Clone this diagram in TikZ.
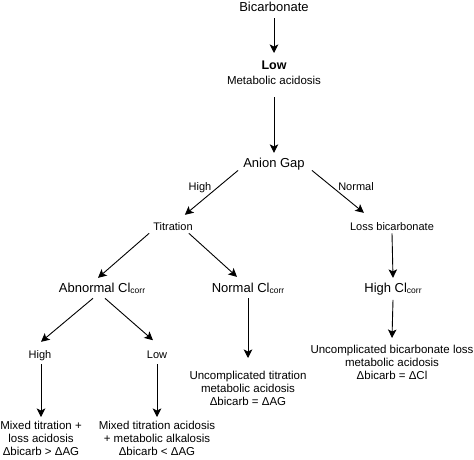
\documentclass[tikz,border=0pt]{standalone}
\usepackage{fontspec}
\setmainfont{Liberation Sans}
\usetikzlibrary{arrows.meta}
\newcommand{\corrsub}{\raisebox{-1pt}{\fontsize{8.5}{8.5}\selectfont corr}}
\tikzset{
  big/.style={inner sep=0pt, font=\fontsize{13}{15}\selectfont},
  small/.style={inner sep=0pt, font=\fontsize{11}{13}\selectfont},
  multi/.style={inner sep=0pt, align=center, anchor=north, font=\fontsize{11.5}{13}\selectfont},
  arr/.style={line width=0.9pt, -{Stealth[length=8.5pt,width=8.5pt,inset=2pt]}}
}
\begin{document}
\begin{tikzpicture}[x=1pt,y=-1pt]
\path[use as bounding box, fill=white] (0,0) rectangle (474,460);

\node[big, anchor=base] (bic) at (274,12) {Bicarbonate};
\node[inner sep=0pt, align=center, anchor=north, font=\fontsize{11.5}{15}\selectfont] (low) at (274,61) {{\fontsize{12.5}{15}\selectfont\bfseries Low}\\Metabolic acidosis};
\node[big, anchor=base] (ag) at (274,167.5) {Anion Gap};
\node[small, anchor=base] (lhigh) at (200,190) {High};
\node[small, anchor=base] (lnormal) at (356,190) {Normal};
\node[small, anchor=base] (tit) at (173,230) {Titration};
\node[small, anchor=base] (lossb) at (392,230) {Loss bicarbonate};
\node[big, anchor=base] (abn) at (102,292) {Abnormal Cl\corrsub};
\node[big, anchor=base] (ncl) at (248,292) {Normal Cl\corrsub};
\node[big, anchor=base] (hcl) at (393,292) {High Cl\corrsub};
\node[small, anchor=base] (hi2) at (40,358) {High};
\node[small, anchor=base] (low2) at (157,358) {Low};
\node[multi] (mix1) at (41,420.5) {Mixed titration +\\loss acidosis\\Δbicarb > ΔAG};
\node[multi] (mix2) at (157,420.5) {Mixed titration acidosis\\+ metabolic alkalosis\\Δbicarb < ΔAG};
\node[multi] (unt) at (248,370.5) {Uncomplicated titration\\metabolic acidosis\\Δbicarb = ΔAG};
\node[multi] (unb) at (392,344.5) {Uncomplicated bicarbonate loss\\metabolic acidosis\\Δbicarb = ΔCl};

\draw[arr] ([yshift=-6pt]bic.south) -- ([yshift=8pt]low.north);
\draw[arr] ([yshift=-12pt]low.south) -- ([yshift=5pt]ag.north);
\draw[arr] ([xshift=-5pt]ag.south west) -- ([xshift=-8pt,yshift=7pt]tit.north east);
\draw[arr] ([xshift=7pt]ag.south east) -- ([xshift=14pt,yshift=9pt]lossb.north west);
\draw[arr] ([xshift=-4pt,yshift=-3pt]tit.south west) -- ([xshift=-4pt,yshift=4.5pt]abn.north);
\draw[arr] ([xshift=-4pt,yshift=-3pt]tit.south east) -- ([xshift=-11pt,yshift=5.5pt]ncl.north);
\draw[arr] ([yshift=-3pt]lossb.south) -- ([yshift=4.5pt]hcl.north);
\draw[arr] ([xshift=-9pt,yshift=-5pt]abn.south) -- ([xshift=1pt,yshift=8pt]hi2.north);
\draw[arr] ([xshift=3pt,yshift=-5pt]abn.south) -- ([xshift=-4pt,yshift=10pt]low2.north);
\draw[arr] ([xshift=1pt,yshift=-4pt]hi2.south) -- ([yshift=3.5pt]mix1.north);
\draw[arr] ([yshift=-6pt]low2.south) -- ([yshift=3.5pt]mix2.north);
\draw[arr] ([yshift=-5pt]ncl.south) -- ([yshift=12.5pt]unt.north);
\draw[arr] ([yshift=-5pt]hcl.south) -- ([yshift=6.5pt]unb.north);
\end{tikzpicture}
\end{document}
